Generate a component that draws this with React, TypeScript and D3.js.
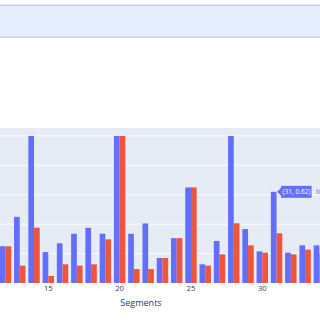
import React from "react";
import * as d3 from "d3";

const segments = [12, 13, 14, 15, 16, 17, 18, 19, 20, 21, 22, 23, 24, 25, 26, 27, 28, 29, 30, 31, 32, 33, 34];
const seriesA = [0.25, 0.45, 1.0, 0.21, 0.27, 0.335, 0.375, 0.335, 1.0, 0.335, 0.405, 0.17, 0.305, 0.65, 0.127, 0.286, 1.0, 0.367, 0.215, 0.62, 0.206, 0.256, 0.256];
const seriesB = [0.25, 0.118, 0.376, 0.048, 0.127, 0.118, 0.127, 0.297, 1.0, 0.095, 0.095, 0.17, 0.305, 0.65, 0.118, 0.195, 0.406, 0.256, 0.206, 0.338, 0.195, 0.227, 0.2];
const xTicks = [15, 20, 25, 30];
const yTicks = [0.2, 0.4, 0.6, 0.8, 1.0];
const hoverText = "(31, 0.62)";
const hoverName = "trace 0";
const xTitle = "Segments";

export default function App() {
  const W = 320, H = 320;
  const plotTop = 128, plotBottom = 283;
  const x = d3.scaleLinear().domain([15, 30]).range([48.3, 262.3]);
  const y = d3.scaleLinear().domain([0, 1.054]).range([plotBottom, plotTop]);
  const unit = x(16) - x(15);
  const bw = (unit * 0.8) / 2;
  const blue = "#636efa", red = "#EF553B";
  const font = "'Open Sans', sans-serif";
  const hx = x(31);
  const hy = y(0.62);
  return (
    <svg width={W} height={H} style={{ position: "absolute", left: 0, top: 0, background: "#fff" }}>
      <rect x={0} y={5} width={W} height={33} fill="#e5eefc" />
      <rect x={0} y={4.5} width={W} height={1.5} fill="#c7d1ea" />
      <rect x={0} y={36.5} width={W} height={1.5} fill="#c7d1ea" />
      <rect x={0} y={plotTop} width={W} height={plotBottom - plotTop} fill="#e5ecf6" />
      {yTicks.map((t) => (
        <line key={t} x1={0} x2={W} y1={y(t)} y2={y(t)} stroke="#fff" strokeWidth={1} />
      ))}
      {segments.map((s, i) => (
        <g key={s}>
          <rect x={x(s) - bw} y={y(seriesA[i])} width={bw} height={plotBottom - y(seriesA[i])} fill={blue} />
          <rect x={x(s)} y={y(seriesB[i])} width={bw} height={plotBottom - y(seriesB[i])} fill={red} />
        </g>
      ))}
      {xTicks.map((t) => (
        <text key={t} x={x(t)} y={291} textAnchor="middle" fontFamily={font} fontSize={7.6} fill="#2a3f5f">{t}</text>
      ))}
      <text x={141} y={305.5} textAnchor="middle" fontFamily={font} fontSize={9} fill="#2a3f5f">{xTitle}</text>
      <g transform={`translate(${hx},${hy})`}>
        <path d={`M0,0 L4,-4 L4,-6.5 L35.5,-6.5 L35.5,6.5 L4,6.5 L4,4 Z`} fill={blue} stroke="#fff" strokeWidth={0.8} />
        <text x={6} y={2.6} fontFamily={font} fontSize={7.3} fill="#fff" textLength={28} lengthAdjust="spacingAndGlyphs">{hoverText}</text>
        <text x={39.5} y={2.6} fontFamily={font} fontSize={7.3} fill={blue}>{hoverName}</text>
      </g>
    </svg>
  );
}
